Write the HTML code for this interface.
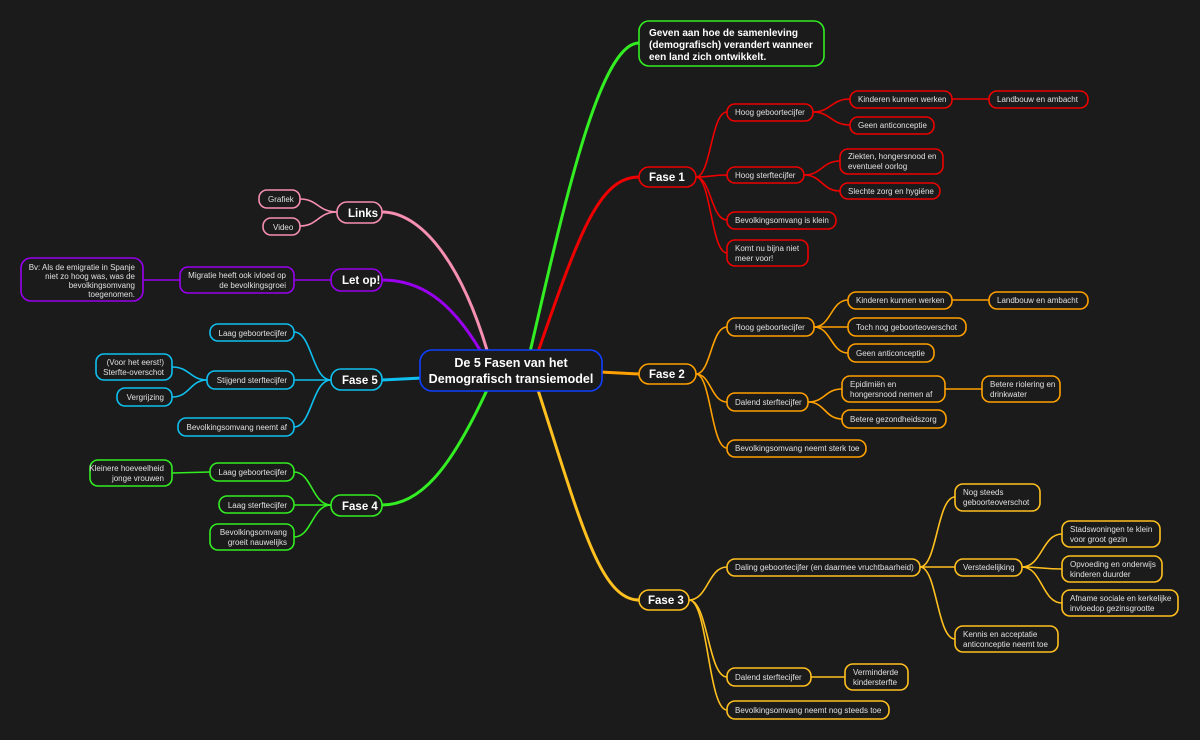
<!DOCTYPE html>
<html><head><meta charset="utf-8"><style>
html,body{margin:0;padding:0;background:#1b1b1b;}
svg{display:block}
text{font-family:"Liberation Sans",sans-serif;font-size:8px;fill:#e0e0e0}
.b{font-weight:bold;font-size:11.5px;fill:#fff}
.e{text-anchor:end}
rect{fill:#1b1b1b;stroke-width:1.6}
path{fill:none}
</style></head><body>
<svg width="1200" height="740" viewBox="0 0 1200 740">
<rect x="0" y="0" width="1200" height="740" style="fill:#1b1b1b;stroke:none"/>
<path d="M530,352 C565,200 600,43 639,43" stroke="#33ee22" stroke-width="3"/>
<path d="M538,352 C580,230 600,177 639,177" stroke="#ee0000" stroke-width="3"/>
<path d="M600,372 L639,374" stroke="#ffa000" stroke-width="3"/>
<path d="M538,390 C580,520 600,600 639,600" stroke="#ffc020" stroke-width="3"/>
<path d="M487,350 C460,260 420,212 382,212" stroke="#f78fb3" stroke-width="3"/>
<path d="M480,350 C450,300 420,280 382,280" stroke="#9900ee" stroke-width="3"/>
<path d="M422,378 L382,380" stroke="#10c0f0" stroke-width="3"/>
<path d="M487,390 C450,470 420,505 382,505" stroke="#33ee22" stroke-width="3"/>
<g stroke="#ee0000" stroke-width="1.6">
<path d="M696,177 C711,177 711,112 727,112"/><path d="M696,177 C711,177 711,175 727,175"/>
<path d="M696,177 C711,177 711,220 727,220"/><path d="M696,177 C711,177 711,253 727,253"/>
<path d="M813,112 C831,112 831,99 850,99"/><path d="M813,112 C831,112 831,125 850,125"/>
<path d="M952,99 L989,99"/>
<path d="M804,175 C822,175 822,161 840,161"/><path d="M804,175 C822,175 822,191 840,191"/>
</g>
<g stroke="#ffa000" stroke-width="1.6">
<path d="M696,374 C711,374 711,327 727,327"/><path d="M696,374 C711,374 711,402 727,402"/><path d="M696,374 C711,374 711,448 727,448"/>
<path d="M814,327 C831,327 831,300 848,300"/><path d="M814,327 L848,327"/><path d="M814,327 C831,327 831,353 848,353"/>
<path d="M952,300 L989,300"/>
<path d="M808,402 C825,402 825,389 842,389"/><path d="M808,402 C825,402 825,419 842,419"/>
<path d="M945,389 L982,389"/>
</g>
<g stroke="#ffc020" stroke-width="1.6">
<path d="M689,600 C708,600 708,567 727,567"/><path d="M689,600 C708,600 708,677 727,677"/><path d="M689,600 C708,600 708,710 727,710"/>
<path d="M920,567 C937,567 937,497 955,497"/><path d="M920,567 L955,567"/><path d="M920,567 C937,567 937,639 955,639"/>
<path d="M1022,567 C1042,567 1042,534 1062,534"/><path d="M1022,567 C1042,567 1042,569 1062,569"/><path d="M1022,567 C1042,567 1042,603 1062,603"/>
<path d="M811,677 L845,677"/>
</g>
<g stroke-width="1.6">
<path stroke="#f78fb3" d="M337,212 C318,212 318,199 300,199"/><path stroke="#f78fb3" d="M337,212 C318,212 318,226 300,226"/>
<path stroke="#9900ee" d="M331,280 L294,280"/><path stroke="#9900ee" d="M180,280 L143,280"/>
<path stroke="#10c0f0" d="M331,380 C312,380 312,332 294,332"/><path stroke="#10c0f0" d="M331,380 L294,380"/><path stroke="#10c0f0" d="M331,380 C312,380 312,427 294,427"/>
<path stroke="#10c0f0" d="M207,380 C190,380 190,367 172,367"/><path stroke="#10c0f0" d="M207,380 C190,380 190,397 172,397"/>
<path stroke="#33ee22" d="M331,505 C312,505 312,472 294,472"/><path stroke="#33ee22" d="M331,505 L294,505"/><path stroke="#33ee22" d="M331,505 C312,505 312,537 294,537"/>
<path stroke="#33ee22" d="M210,472 L172,473"/>
</g>

<rect x="420" y="350" width="182" height="41" rx="12" stroke="#1040ff" stroke-width="2"/>
<text class="b" x="511" y="367" text-anchor="middle" style="font-size:12.5px">De 5 Fasen van het</text>
<text class="b" x="511" y="383" text-anchor="middle" style="font-size:12.5px">Demografisch transiemodel</text>

<rect x="639" y="21" width="185" height="45" rx="10" stroke="#33ee22"/>
<text x="649" y="36" style="font-size:10px;font-weight:bold;fill:#fff">Geven aan hoe de samenleving</text>
<text x="649" y="48" style="font-size:10px;font-weight:bold;fill:#fff">(demografisch) verandert wanneer</text>
<text x="649" y="60" style="font-size:10px;font-weight:bold;fill:#fff">een land zich ontwikkelt.</text>

<g stroke="#ee0000">
<rect x="639" y="167" width="57" height="20" rx="10"/>
<rect x="727" y="104" width="86" height="17" rx="8"/>
<rect x="850" y="91" width="102" height="17" rx="8"/>
<rect x="989" y="91" width="99" height="17" rx="8"/>
<rect x="850" y="117" width="84" height="17" rx="8"/>
<rect x="727" y="167" width="77" height="16" rx="8"/>
<rect x="840" y="149" width="103" height="25" rx="8"/>
<rect x="840" y="183" width="100" height="16" rx="8"/>
<rect x="727" y="212" width="109" height="17" rx="8"/>
<rect x="727" y="240" width="81" height="26" rx="8"/>
</g>
<text class="b" x="649" y="181">Fase 1</text>
<text x="735" y="115">Hoog geboortecijfer</text>
<text x="858" y="102">Kinderen kunnen werken</text>
<text x="997" y="102">Landbouw en ambacht</text>
<text x="858" y="128">Geen anticonceptie</text>
<text x="735" y="178">Hoog sterftecijfer</text>
<text x="848" y="159">Ziekten, hongersnood en</text>
<text x="848" y="169">eventueel oorlog</text>
<text x="848" y="194">Slechte zorg en hygiëne</text>
<text x="735" y="223">Bevolkingsomvang is klein</text>
<text x="735" y="251">Komt nu bijna niet</text>
<text x="735" y="261">meer voor!</text>

<g stroke="#ffa000">
<rect x="639" y="364" width="57" height="20" rx="10"/>
<rect x="727" y="318" width="87" height="18" rx="8"/>
<rect x="848" y="292" width="104" height="17" rx="8"/>
<rect x="989" y="292" width="99" height="17" rx="8"/>
<rect x="848" y="318" width="118" height="18" rx="8"/>
<rect x="848" y="344" width="86" height="18" rx="8"/>
<rect x="727" y="393" width="81" height="18" rx="8"/>
<rect x="842" y="376" width="103" height="26" rx="8"/>
<rect x="982" y="376" width="78" height="26" rx="8"/>
<rect x="842" y="410" width="104" height="18" rx="8"/>
<rect x="727" y="440" width="139" height="17" rx="8"/>
</g>
<text class="b" x="649" y="378">Fase 2</text>
<text x="735" y="330">Hoog geboortecijfer</text>
<text x="856" y="303">Kinderen kunnen werken</text>
<text x="997" y="303">Landbouw en ambacht</text>
<text x="856" y="330">Toch nog geboorteoverschot</text>
<text x="856" y="356">Geen anticonceptie</text>
<text x="735" y="405">Dalend sterftecijfer</text>
<text x="850" y="387">Epidimiën en</text>
<text x="850" y="397">hongersnood nemen af</text>
<text x="990" y="387">Betere riolering en</text>
<text x="990" y="397">drinkwater</text>
<text x="850" y="422">Betere gezondheidszorg</text>
<text x="735" y="451">Bevolkingsomvang neemt sterk toe</text>

<g stroke="#ffc020">
<rect x="639" y="590" width="50" height="20" rx="10"/>
<rect x="727" y="559" width="193" height="17" rx="8"/>
<rect x="955" y="484" width="85" height="27" rx="8"/>
<rect x="955" y="559" width="67" height="17" rx="8"/>
<rect x="1062" y="521" width="98" height="26" rx="8"/>
<rect x="1062" y="556" width="100" height="26" rx="8"/>
<rect x="1062" y="590" width="116" height="26" rx="8"/>
<rect x="955" y="626" width="103" height="26" rx="8"/>
<rect x="727" y="668" width="84" height="18" rx="8"/>
<rect x="845" y="664" width="63" height="26" rx="8"/>
<rect x="727" y="701" width="162" height="18" rx="8"/>
</g>
<text class="b" x="648" y="604">Fase 3</text>
<text x="735" y="570">Daling geboortecijfer (en daarmee vruchtbaarheid)</text>
<text x="963" y="495">Nog steeds</text>
<text x="963" y="505">geboorteoverschot</text>
<text x="963" y="570">Verstedelijking</text>
<text x="1070" y="532">Stadswoningen te klein</text>
<text x="1070" y="542">voor groot gezin</text>
<text x="1070" y="567">Opvoeding en onderwijs</text>
<text x="1070" y="577">kinderen duurder</text>
<text x="1070" y="601">Afname sociale en kerkelijke</text>
<text x="1070" y="611">invloedop gezinsgrootte</text>
<text x="963" y="637">Kennis en acceptatie</text>
<text x="963" y="647">anticonceptie neemt toe</text>
<text x="735" y="680">Dalend sterftecijfer</text>
<text x="853" y="675">Verminderde</text>
<text x="853" y="685">kindersterfte</text>
<text x="735" y="713">Bevolkingsomvang neemt nog steeds toe</text>

<g stroke="#f78fb3">
<rect x="337" y="202" width="45" height="21" rx="10"/>
<rect x="259" y="190" width="41" height="18" rx="8"/>
<rect x="263" y="218" width="37" height="17" rx="8"/>
</g>
<text class="b" x="348" y="217">Links</text>
<text x="268" y="202">Grafiek</text>
<text x="273" y="230">Video</text>

<g stroke="#9900ee">
<rect x="331" y="269" width="51" height="22" rx="10"/>
<rect x="180" y="267" width="114" height="26" rx="8"/>
<rect x="21" y="258" width="122" height="43" rx="10"/>
</g>
<text class="b" x="342" y="284">Let op!</text>
<text class="e" x="286" y="278">Migratie heeft ook ivloed op</text>
<text class="e" x="286" y="288">de bevolkingsgroei</text>
<text class="e" x="135" y="270">Bv:  Als de emigratie in Spanje</text>
<text class="e" x="135" y="279">niet zo hoog was, was de</text>
<text class="e" x="135" y="288">bevolkingsomvang</text>
<text class="e" x="135" y="297">toegenomen.</text>

<g stroke="#10c0f0">
<rect x="331" y="369" width="51" height="21" rx="10"/>
<rect x="210" y="324" width="84" height="17" rx="8"/>
<rect x="207" y="371" width="87" height="18" rx="8"/>
<rect x="96" y="354" width="76" height="26" rx="8"/>
<rect x="117" y="388" width="55" height="18" rx="8"/>
<rect x="178" y="418" width="116" height="18" rx="8"/>
</g>
<text class="b" x="342" y="384">Fase 5</text>
<text class="e" x="287" y="336">Laag geboortecijfer</text>
<text class="e" x="287" y="383">Stijgend sterftecijfer</text>
<text class="e" x="164" y="365">(Voor het eerst!)</text>
<text class="e" x="164" y="375">Sterfte-overschot</text>
<text class="e" x="164" y="400">Vergrijzing</text>
<text class="e" x="287" y="430">Bevolkingsomvang neemt af</text>

<g stroke="#33ee22">
<rect x="331" y="495" width="51" height="21" rx="10"/>
<rect x="210" y="463" width="84" height="18" rx="8"/>
<rect x="90" y="460" width="82" height="26" rx="8"/>
<rect x="219" y="496" width="75" height="17" rx="8"/>
<rect x="210" y="524" width="84" height="26" rx="8"/>
</g>
<text class="b" x="342" y="510">Fase 4</text>
<text class="e" x="287" y="475">Laag geboortecijfer</text>
<text class="e" x="164" y="471">Kleinere hoeveelheid</text>
<text class="e" x="164" y="481">jonge vrouwen</text>
<text class="e" x="287" y="508">Laag sterftecijfer</text>
<text class="e" x="287" y="535">Bevolkingsomvang</text>
<text class="e" x="287" y="545">groeit nauwelijks</text>
</svg>
</body></html>
